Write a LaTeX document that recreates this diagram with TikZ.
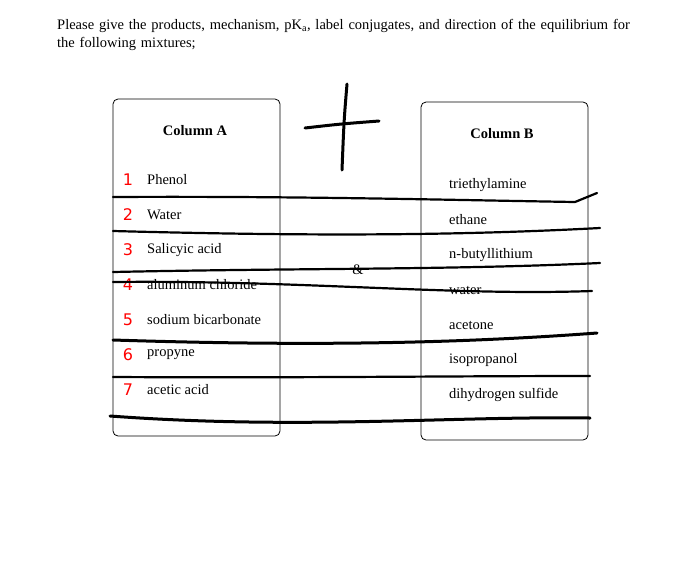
\documentclass[tikz,border=0pt]{standalone}
\usepackage{fontspec}
\setmainfont{Liberation Serif}
\newfontfamily\hand{DejaVu Sans}
\begin{document}
\begin{tikzpicture}[x=1pt,y=-1pt,
  box/.style={draw,rounded corners=5pt,line width=0.8pt},
  item/.style={anchor=west,font=\fontsize{14.5}{17}\selectfont,inner sep=0},
  head/.style={font=\bfseries\fontsize{14.5}{17}\selectfont,inner sep=0},
  num/.style={red,font=\hand\fontsize{16}{16}\selectfont,inner sep=0},
  ink/.style={line width=2.2pt,line cap=round}]
\useasboundingbox (0,0) rectangle (700,560);
\node[item,anchor=north west,align=left,text width=600,font=\fontsize{14.5}{18}\selectfont] (q) at (57,19) {Please give the products, mechanism, pK\textsubscript{a}, label conjugates, and direction of the equilibrium for\\ the following mixtures;};
\draw[box] (113,99) rectangle (280,436);
\draw[box] (421,102) rectangle (588,440);
\node[head] (ca) at (195,131) {Column A};
\node[head] (cb) at (502,134) {Column B};
\foreach \t/\y [count=\i] in {Phenol/180,Water/215,Salicyic acid/250,aluminum chloride/285,sodium bicarbonate/320,propyne/355,acetic acid/390}{
  \node[item] (a\i) at (147,\y) {\t};
  \node[num] (n\i) at (128,\y) {\i};}
\foreach \t/\y [count=\i] in {triethylamine/185,ethane/220,n-butyllithium/255,water/290,acetone/325,isopropanol/360,dihydrogen sulfide/395}{
  \node[item] (b\i) at (449,\y) {\t};}
\node[item,anchor=center] (amp) at (358,270) {\&};
\draw[ink,line width=3pt] (347,84) .. controls (344,120) .. (342,170);
\draw[ink,line width=3pt] (305,128) .. controls (340,124) .. (379,121);
\draw[ink] (113,197) .. controls (300,196) and (450,200) .. (575,202) -- (597,193);
\draw[ink] (113,231) .. controls (300,236) and (450,236) .. (600,228);
\draw[ink] (113,272) .. controls (300,268) and (450,270) .. (600,263);
\draw[ink] (113,282) .. controls (300,280) and (450,296) .. (592,291);
\draw[ink,line width=3pt] (113,340) .. controls (300,346) and (450,344) .. (597,333);
\draw[ink] (113,377) .. controls (300,378) and (450,376) .. (590,376);
\draw[ink,line width=3pt] (110,416) .. controls (300,430) and (450,416) .. (590,418);
\end{tikzpicture}
\end{document}
